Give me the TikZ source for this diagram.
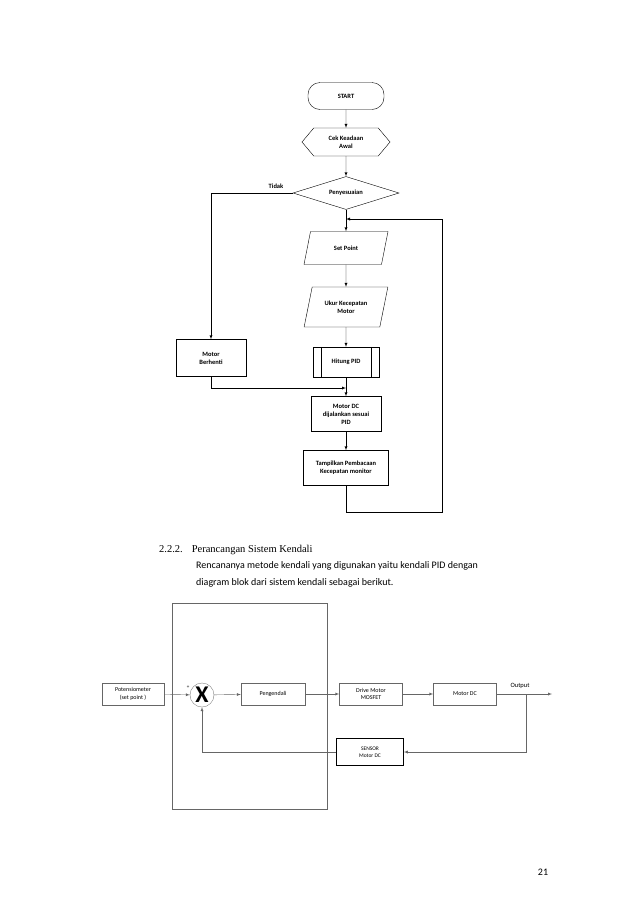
\documentclass[tikz,border=0pt]{standalone}
\usepackage{fontspec}
\setmainfont{Carlito}
\newfontfamily\titlefont{Liberation Serif}
\usetikzlibrary{shapes.geometric, shapes.symbols, arrows}

\begin{document}
\begin{tikzpicture}[x=1pt,y=-1pt,>=latex,
    every node/.style={font=\fontsize{6.5}{8}\selectfont\bfseries, align=center, inner sep=1pt},
    box/.style={draw, minimum width=#1, minimum height=35pt},
    term/.style={draw, rounded corners=12pt, minimum width=76pt, minimum height=27pt},
    prep/.style={draw, signal, signal to=west and east, signal pointer angle=100, minimum width=88pt, minimum height=28pt},
    decision/.style={draw, diamond, aspect=3.2, minimum width=106pt, minimum height=33pt, inner sep=0pt},
    io/.style={draw, trapezium, trapezium left angle=70, trapezium right angle=110, trapezium stretches=true, minimum width=84pt, minimum height=33pt},
    blk/.style={draw, gray!80!black, text=black, minimum width=63pt, minimum height=22pt, font=\fontsize{6}{7.5}\selectfont},
    line/.style={draw, gray!80!black, thick}]
  \useasboundingbox (0,0) rectangle (638,903);
  % Flowchart
  \node[term] (start) at (346,96) {START};
  \node[prep] (cek) at (346,142) {Cek Keadaan\\Awal};
  \node[decision] (sesuai) at (346,193) {Penyesuaian};
  \node[io] (setp) at (346,248) {Set Point};
  \node[io, minimum height=40pt] (ukur) at (346,307) {Ukur Kecepatan\\Motor};
  \node[box=66pt, minimum height=30pt] (pid) at (346,362) {Hitung PID};
  \draw ([xshift=8pt]pid.north west) -- ([xshift=8pt]pid.south west)
        ([xshift=-8pt]pid.north east) -- ([xshift=-8pt]pid.south east);
  \node[box=70pt, minimum height=37pt] (henti) at (211,358) {Motor\\Berhenti};
  \node[box=70pt] (jalan) at (346,414) {Motor DC\\dijalankan sesuai\\PID};
  \node[box=85pt] (tampil) at (346,468) {Tampilkan Pembacaan\\Kecepatan monitor};
  \coordinate (loop) at (346,219);
  \node (tidak) at (276,186) {Tidak};
  \path[->]
      (start) edge (cek)
      (cek) edge (sesuai)
      (sesuai) edge (setp)
      (setp) edge (ukur)
      (ukur) edge (pid)
      (pid) edge (jalan)
      (jalan) edge (tampil);
  \draw[->] (sesuai.west) -| (henti.north);
  \draw[->] (henti.south) |- (346,388);
  \draw[->] (tampil.south) |- (442,512) |- (loop);
  % Text
  \node[font=\titlefont\fontsize{10.5}{12}\selectfont, anchor=west] (sec) at (158,550) {2.2.2.\hspace{9pt}Perancangan Sistem Kendali};
  \node[font=\fontsize{10}{17}\selectfont, anchor=north west, align=left] (par) at (195,560)
      {Rencananya metode kendali yang digunakan yaitu kendali PID dengan\\diagram blok dari sistem kendali sebagai berikut.};
  % Block diagram
  \draw[gray!80!black] (172,603) rectangle (327,809);
  \node[blk, minimum width=62pt] (pot) at (133,694) {Potensiometer\\(set point )};
  \node[draw, gray, circle, minimum size=24pt, inner sep=0pt, text=black, font=\fontsize{24}{24}\selectfont\bfseries] (sum) at (202,695) {X};
  \node[font=\fontsize{5}{6}\selectfont] (plus) at (188,687) {+};
  \node[blk, minimum width=64pt] (ctrl) at (273,694) {Pengendali};
  \node[blk] (drive) at (371,694) {Drive Motor\\MOSFET};
  \node[blk] (motor) at (465,694) {Motor DC};
  \node[draw, semithick, minimum width=67pt, minimum height=27pt, font=\fontsize{5.5}{7.5}\selectfont] (sensor) at (370,752) {SENSOR\\Motor DC};
  \node[font=\fontsize{6.5}{7}\selectfont] (outl) at (520,686) {Output};
  \coordinate (out) at (552,694);
  \coordinate (tap) at (526,694);
  \path[->, gray!80!black]
      (pot) edge (sum)
      (sum) edge (ctrl)
      (ctrl) edge (drive)
      (drive) edge (motor)
      (motor) edge (out);
  \draw[->, gray!80!black] (tap) |- (sensor.east);
  \draw[->, gray!80!black] (sensor.west) -| (sum.south);
  \node[font=\fontsize{10}{12}\selectfont] (page) at (543,872) {21};
\end{tikzpicture}
\end{document}
